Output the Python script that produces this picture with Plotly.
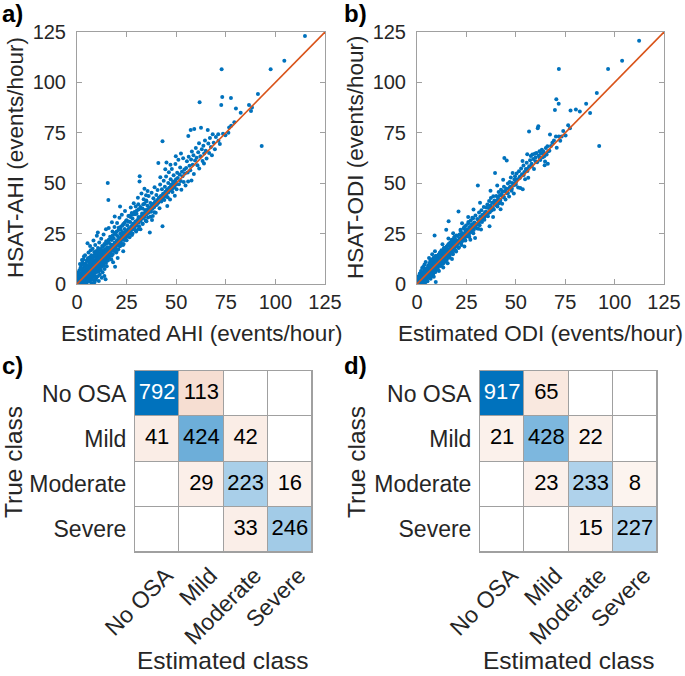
import plotly.graph_objects as go

# ---- data ----
# a) estimated AHI vs HSAT-AHI (events/hour)
ahi_points = [
    (0.1,0.0),(0.3,0.4),(0.4,1.1),(0.6,0.1),(0.7,2.0),(0.9,0.7),(1.0,3.1),(1.1,1.4),(1.3,0.2),(1.4,2.5),
    (1.6,4.2),(1.7,0.9),(1.9,1.8),(2.0,3.6),(2.1,5.3),(2.3,0.4),(2.4,2.9),(2.6,6.4),(2.7,1.2),(2.9,4.5),
    (3.0,7.6),(3.1,2.2),(3.3,0.6),(3.4,5.8),(3.6,3.4),(3.7,8.9),(3.9,1.5),(4.0,6.7),(4.2,4.3),(4.3,10.2),
    (4.5,2.4),(4.6,7.8),(4.8,5.2),(4.9,11.6),(5.0,0.9),(0.5,5.5),(1.2,6.8),(1.8,8.1),(2.2,9.4),(2.8,10.7),
    (3.2,12.1),(3.5,13.6),(2.5,11.9),(1.5,9.9),(4.1,14.3),(0.8,3.8),(2.0,0.1),(3.8,0.3),(4.4,0.5),
    (5.1,3.6),(5.2,6.9),(5.3,9.1),(5.4,1.7),(5.5,12.8),(5.6,5.3),(5.7,8.0),(5.8,15.6),(5.9,2.9),(6.0,6.2),
    (6.1,10.4),(6.2,4.1),(6.3,13.2),(6.4,7.4),(6.5,1.3),(6.6,9.0),(6.7,5.6),(6.8,11.7),(6.9,16.8),(7.0,3.2),
    (7.1,7.9),(7.2,14.3),(7.3,6.1),(7.4,9.8),(7.5,2.2),(7.6,12.6),(7.7,4.9),(7.8,8.7),(7.9,17.5),(8.0,6.8),
    (8.1,10.9),(8.2,3.5),(8.3,13.8),(8.4,7.6),(8.5,1.9),(8.6,9.4),(8.7,15.9),(8.8,5.4),(8.9,11.5),(9.0,8.2),
    (9.1,4.0),(9.2,19.3),(9.3,10.1),(9.4,6.6),(9.5,13.0),(9.6,2.8),(9.7,8.9),(9.8,16.4),(9.9,11.8),(10.0,5.9),
    (5.3,20.2),(6.6,18.9),(8.3,21.6),(10.0,23.9),(7.4,0.4),(8.8,0.9),(9.4,2.0),
    (10.1,9.6),(10.2,14.2),(10.3,7.3),(10.4,11.1),(10.5,3.9),(10.6,17.8),(10.7,9.0),(10.8,12.6),(10.9,6.2),
    (11.0,15.1),(11.1,10.3),(11.2,20.6),(11.3,8.1),(11.4,13.5),(11.5,4.6),(11.6,11.9),(11.7,17.1),(11.8,9.7),
    (11.9,14.7),(12.0,7.0),(12.1,12.3),(12.2,22.4),(12.3,10.5),(12.4,15.8),(12.5,8.6),(12.6,13.1),(12.7,18.9),
    (12.8,11.4),(12.9,5.8),(13.0,14.6),(13.1,10.0),(13.2,16.7),(13.3,12.4),(13.4,24.5),(13.5,9.1),(13.6,15.3),
    (13.7,12.9),(13.8,19.8),(13.9,7.5),(14.0,14.0),(14.1,11.2),(14.2,17.4),(14.3,13.6),(14.4,2.3),(14.5,15.9),
    (14.6,10.4),(14.7,21.2),(14.8,12.8),(14.9,16.6),(15.0,8.8),(11.0,1.5),(12.5,3.1),(13.8,4.0),(10.5,25.6),
    (14.6,27.2),
    (15.2,14.1),(15.4,18.2),(15.5,50.1),(15.6,11.7),(15.8,41.7),(15.9,16.3),(16.1,20.5),(16.3,13.8),(16.5,17.9),
    (16.7,23.4),(16.9,15.2),(17.1,19.6),(17.3,12.1),(17.5,21.8),(17.7,17.0),(17.9,26.1),(18.1,14.9),(18.3,19.2),
    (18.5,22.7),(18.7,16.8),(18.9,28.3),(19.1,20.4),(19.2,8.6),(19.4,18.1),(19.6,24.6),(19.8,15.6),(20.0,21.5),
    (20.2,30.2),(20.4,19.3),(20.6,23.7),(20.8,17.2),(21.0,26.8),(21.2,21.1),(21.4,32.9),(21.6,18.7),(21.8,24.9),
    (22.0,22.3),(22.2,28.5),(22.4,20.0),(22.6,34.4),(22.8,25.8),(23.0,23.1),(23.2,19.4),(23.4,29.7),(23.6,24.5),
    (23.8,21.8),(24.0,27.3),(24.2,36.2),(24.4,25.6),(24.6,22.9),(24.8,31.4),(25.0,26.4),(16.0,27.8),(17.6,30.6),
    (19.0,33.5),(21.7,38.4),(23.3,16.2),(20.5,12.9),(18.2,10.8),
    (25.3,29.2),(25.6,23.8),(25.9,33.7),(26.2,27.6),(26.5,25.1),(26.8,30.8),(27.1,37.9),(27.4,28.4),(27.7,24.3),
    (28.0,32.5),(28.3,29.9),(28.6,40.1),(28.9,27.2),(29.2,34.6),(29.5,31.0),(29.8,26.0),(30.1,36.3),(30.4,30.7),
    (30.7,42.8),(31.0,33.2),(31.3,28.7),(31.6,53.4),(31.9,37.5),(32.2,32.1),(32.5,44.9),(32.8,35.0),(33.1,29.8),
    (33.4,39.6),(33.7,34.3),(34.0,47.2),(34.3,36.7),(34.6,31.5),(34.9,41.4),(35.2,36.1),(35.5,38.8),(35.8,33.0),
    (36.1,43.6),(36.4,37.4),(36.7,25.5),(37.0,40.2),(37.3,35.9),(37.6,45.3),(37.9,39.0),(38.2,33.7),(38.5,42.5),
    (38.8,38.1),(39.1,48.0),(39.4,40.8),(39.7,35.4),(40.0,44.1),(27.6,35.2),(29.6,38.4),(31.5,50.9),(33.6,42.0),
    (35.6,46.1),(26.4,33.9),(30.9,39.5),(34.8,44.0),(32.0,27.2),(37.8,31.8),
    (40.3,39.6),(40.6,46.6),(41.0,60.0),(41.3,42.8),(41.6,37.6),(41.9,49.3),(42.2,43.5),(42.5,40.9),(42.8,47.0),
    (43.1,70.8),(43.1,28.6),(43.4,44.6),(43.7,51.2),(44.0,41.7),(44.3,48.3),(44.6,45.0),(44.9,53.3),(45.1,60.3),
    (45.4,46.5),(45.7,43.0),(46.0,50.1),(46.3,55.4),(46.6,47.8),(46.9,41.9),(47.2,52.0),(47.5,49.2),(47.8,57.0),
    (48.1,45.6),(48.4,50.8),(48.7,53.9),(49.0,48.4),(49.3,43.8),(49.6,59.5),(49.9,51.9),(50.2,47.0),(50.5,55.2),
    (50.8,52.6),(51.1,61.6),(51.4,49.5),(51.7,54.3),(52.0,57.8),(52.3,51.1),(52.6,46.8),(52.9,55.7),(53.2,53.4),
    (53.5,62.4),(53.8,50.6),(54.1,56.8),(54.4,54.8),(54.7,48.9),(56.0,50.9),(57.7,51.4),(42.0,53.0),(44.5,56.9),
    (47.1,59.1),(49.8,63.4),(52.4,64.7),(45.5,38.7),
    (55.0,57.5),(55.4,60.9),(55.8,55.3),(56.1,73.4),(56.3,63.1),(56.7,58.6),(57.1,56.4),(57.3,76.4),(57.5,61.8),
    (57.9,65.7),(58.3,59.2),(58.7,63.9),(59.1,76.9),(59.5,61.2),(59.9,67.4),(60.3,62.6),(60.7,58.9),(61.1,65.3),
    (61.5,69.8),(61.8,90.1),(62.2,63.4),(62.5,77.5),(62.9,66.9),(63.3,61.0),(63.7,68.6),(64.1,64.7),(64.5,71.2),
    (64.9,66.1),(65.3,62.3),(65.9,76.4),(66.2,69.7),(66.6,65.0),(67.0,72.4),(67.5,68.0),(68.0,63.9),(68.4,74.3),
    (68.9,70.1),(69.5,66.8),(70.0,72.9),(71.2,74.3),(71.3,71.0),(72.0,69.5),(72.7,88.8),(72.9,106.5),(73.2,92.8),
    (73.6,74.5),(74.8,73.8),(76.3,75.0),(76.7,77.6),(77.6,92.3),(77.7,78.5),(79.3,80.2),(80.1,87.0),(82.5,85.0),
    (86.7,88.8),(87.7,85.8),(88.2,87.6),(91.2,94.2),(93.1,68.5),(97.6,106.5),(104.5,110.8),(114.9,123.0),
    (58.9,54.6),(61.6,57.3),(64.0,59.8),
    # dense band along the diagonal
    (0.5,0.6),(1.0,1.6),(1.5,0.5),(2.0,2.4),(2.5,1.9),(3.0,3.9),(3.5,2.6),(4.0,4.8),(4.5,3.9),(5.0,5.9),
    (5.5,4.6),(6.0,7.1),(6.5,5.8),(7.0,8.3),(7.5,7.0),(8.0,9.1),(8.5,8.0),(9.0,10.2),(9.5,9.3),(10.0,11.3),
    (10.5,10.1),(11.0,12.2),(11.5,11.0),(12.0,13.3),(12.5,12.1),(13.0,12.8),(13.5,14.4),(14.0,13.1),(14.5,14.8),
    (15.0,16.1),(15.5,15.0),(16.0,17.4),(16.5,15.9),(17.0,18.2),(17.5,16.7),(18.0,19.4),(18.5,17.9),(19.0,20.5),
    (19.5,19.0),(20.0,20.9),(20.5,21.8),(21.0,20.1),(21.5,22.6),(22.0,21.2),(22.5,23.7),(23.0,22.1),(23.5,24.8),
    (24.0,23.4),(24.5,25.6),(25.0,24.3),(25.5,26.7),(26.0,25.3),(26.5,27.5),(27.0,26.2),(27.5,28.8),(28.0,27.1),
    (28.5,29.6),(29.0,28.3),(29.5,30.7),(30.0,29.0),(30.5,31.8),(31.0,30.5),(31.5,32.9),(32.0,31.4),(32.5,33.7),
    (33.0,32.6),(33.5,34.8),(34.0,33.2),(34.5,35.9),(35.0,34.6),(35.5,36.8),(36.0,35.3),(36.5,37.9),(37.0,36.4),
    (37.5,38.7),(38.0,37.3),(38.5,39.8),(39.0,38.5),(39.5,40.9),(40.0,39.2),(40.5,41.7),(41.0,40.3),(41.5,42.8),
    (42.0,41.2),(42.5,43.6),(43.0,42.4),(43.5,44.7),(44.0,43.3),(44.5,45.8),(45.0,44.1),(45.5,46.9),(46.0,45.4),
    (46.5,47.6),(47.0,46.5),(47.5,48.8),(48.0,47.2),(48.5,49.7),(49.0,48.0),(49.5,50.9),(50.0,49.3),
    (1.0,5.0),(2.0,7.3),(3.0,9.5),(4.0,9.0),(5.0,8.4),(6.0,11.2),(7.0,10.9),(8.0,12.3),(9.0,14.6),(10.0,15.2),
    (11.0,16.7),(12.0,17.3),(13.0,18.5),(14.0,19.4),(15.0,20.2),(16.0,21.9),(17.0,22.6),(18.0,24.0),(19.0,25.3),
    (20.0,26.1),(21.0,27.9),(22.0,27.0),(23.0,29.1),(24.0,30.4),(25.0,31.6),(26.0,31.0),(27.0,33.2),(28.0,34.5),
    (29.0,35.7),(30.0,34.8),(31.0,36.9),(32.0,38.2),(33.0,37.5),(34.0,39.8),(35.0,41.0),
    (5.5,2.0),(6.5,3.4),(7.5,4.2),(8.5,5.7),(9.5,6.1),(10.5,7.7),(11.5,8.0),(12.5,9.9),(13.5,10.8),(14.5,11.5),
    (16.0,12.9),(17.5,14.0),(19.0,16.4),(20.5,17.0),(22.0,19.1),(23.5,19.9),(25.0,21.7),(26.5,23.2),(28.0,25.0),
    (29.5,26.6),(31.0,27.3),(33.0,30.0),(35.0,31.1),(37.0,33.4),(39.0,35.6),
]

# b) estimated ODI vs HSAT-ODI (events/hour)
odi_points = [
    (0.1,0.1),(0.3,0.8),(0.4,0.2),(0.6,1.5),(0.7,0.4),(0.9,2.2),(1.0,0.9),(1.2,0.1),(1.3,2.8),(1.5,1.4),
    (1.6,3.5),(1.8,0.6),(1.9,2.1),(2.1,4.0),(2.2,1.1),(2.4,2.9),(2.5,5.1),(2.7,0.3),(2.8,3.7),(3.0,1.8),
    (3.1,6.0),(3.3,2.6),(3.4,4.4),(3.6,0.9),(3.7,3.3),(3.9,6.9),(4.0,1.7),(4.2,5.2),(4.3,3.0),(4.5,7.6),
    (4.6,2.2),(4.8,4.7),(4.9,6.2),(5.0,3.6),(0.8,3.9),(1.4,5.2),(2.0,6.5),(2.6,7.9),(3.2,8.6),(3.8,9.7),
    (4.4,10.9),(1.1,0.0),(2.3,0.2),(3.5,0.5),(4.1,0.7),
    (5.1,5.8),(5.2,2.9),(5.4,7.3),(5.5,4.5),(5.6,9.1),(5.8,6.0),(5.9,3.3),(6.0,8.2),(6.2,5.1),(6.3,10.4),
    (6.4,7.0),(6.6,4.2),(6.7,8.9),(6.8,11.6),(7.0,6.4),(7.1,9.7),(7.2,3.8),(7.4,7.9),(7.5,12.1),(7.6,5.6),
    (7.8,9.2),(7.9,7.0),(8.0,10.8),(8.2,4.9),(8.3,8.5),(8.4,13.0),(8.6,6.7),(8.7,9.9),(8.8,11.8),(8.9,24.1),
    (9.0,7.8),(9.2,10.5),(9.3,5.9),(9.4,13.9),(9.6,9.1),(9.7,11.3),(9.8,7.4),(10.0,12.6),(6.1,12.9),(7.7,14.8),
    (9.1,16.2),(5.3,1.4),(6.9,2.6),(8.5,3.6),(9.5,1.0),
    (10.2,9.7),(10.4,12.0),(10.6,8.4),(10.8,14.1),(11.0,10.9),(11.2,13.2),(11.4,9.3),(11.6,15.6),(11.8,12.4),
    (12.0,10.7),(12.2,14.5),(12.4,16.8),(12.6,11.8),(12.8,13.9),(13.0,9.9),(13.2,15.7),(13.4,13.1),(13.6,17.9),
    (13.8,12.2),(14.0,14.9),(14.2,16.6),(14.4,11.3),(14.6,15.4),(14.8,26.9),(15.0,13.8),(15.2,17.5),(15.4,15.1),
    (15.6,19.2),(15.8,13.0),(16.0,31.1),(16.2,16.6),(16.4,18.8),(16.6,14.4),(16.8,20.4),(17.0,17.3),(17.2,15.5),
    (17.4,19.7),(17.6,21.9),(17.8,16.8),(18.0,18.9),(18.2,14.7),(18.4,20.9),(18.6,18.1),(18.8,23.0),(19.0,17.0),
    (19.2,20.2),(19.4,22.1),(19.6,18.6),(19.8,16.1),(20.0,21.3),(11.1,6.5),(13.3,8.2),(15.5,10.3),(17.7,12.4),
    (12.9,19.7),(15.9,22.6),(18.3,25.2),
    (20.3,19.6),(20.6,23.8),(20.9,21.0),(21.0,36.0),(21.2,18.2),(21.5,24.5),(21.8,22.1),(22.1,26.3),(22.4,20.4),
    (22.7,23.7),(23.0,25.2),(23.3,21.5),(23.6,27.6),(23.9,24.2),(24.2,22.0),(24.5,26.4),(24.8,29.0),(25.1,23.6),
    (25.4,27.2),(25.7,25.0),(26.0,30.1),(26.3,24.4),(26.6,28.3),(26.9,26.2),(27.2,31.5),(27.5,25.8),(27.8,29.6),
    (28.1,27.4),(28.4,32.6),(28.7,26.8),(29.0,30.5),(29.3,28.7),(29.4,22.8),(29.6,34.0),(29.9,29.6),(30.2,27.6),
    (30.5,32.2),(30.8,48.8),(31.1,30.3),(31.4,35.5),(31.7,29.1),(32.0,33.3),(32.3,31.4),(32.6,36.6),(32.9,30.7),
    (33.2,34.4),(33.5,32.5),(33.8,38.2),(34.1,31.9),(34.4,35.6),(34.7,33.8),(35.0,37.9),(22.8,30.1),(25.9,33.2),
    (28.6,36.9),(31.9,40.3),(24.0,18.6),(27.0,21.9),(32.4,27.0),
    (35.3,35.1),(35.6,39.4),(35.9,33.6),(36.2,37.7),(36.5,41.2),(36.7,28.6),(36.8,35.6),(37.1,39.0),(37.4,42.6),
    (37.7,36.4),(38.0,40.3),(38.3,38.1),(38.6,43.5),(38.9,37.0),(39.2,41.4),(39.5,55.0),(39.8,39.6),(40.1,43.7),
    (40.4,41.2),(40.7,38.4),(41.0,42.8),(41.3,45.6),(41.6,40.1),(41.9,43.9),(42.2,41.7),(42.5,46.8),(42.8,44.6),
    (43.1,39.8),(43.4,45.9),(43.7,43.1),(44.0,48.2),(44.2,62.5),(44.5,46.1),(44.8,41.9),(45.1,47.4),(45.4,61.3),
    (45.7,45.0),(46.0,49.9),(46.3,47.3),(46.6,43.4),(46.9,50.6),(47.2,48.3),(47.5,52.8),(47.8,46.2),(48.1,50.1),
    (48.4,55.0),(48.7,48.8),(49.0,44.9),(49.3,51.8),(49.6,53.5),(50.0,50.4),(37.2,46.3),(40.6,48.9),(43.6,51.7),
    (38.5,33.2),(42.3,37.1),
    (50.4,54.8),(50.8,52.0),(51.2,47.9),(51.6,55.9),(52.0,53.2),(52.3,47.6),(52.7,57.3),(53.1,54.5),(53.5,47.0),
    (53.9,58.8),(54.3,55.6),(54.7,51.9),(55.1,57.1),(55.5,60.2),(55.9,56.0),(56.3,52.7),(56.7,75.7),(56.8,58.4),
    (57.2,61.4),(57.6,63.5),(58.0,59.6),(58.4,64.2),(58.8,62.0),(59.2,57.1),(59.6,64.6),(60.0,62.8),(60.4,65.0),
    (60.8,60.4),(61.1,77.2),(61.4,78.2),(61.6,63.7),(62.0,65.9),(62.4,61.5),(62.8,64.8),(63.2,66.6),(63.6,62.9),
    (64.0,65.7),(64.4,63.4),(64.8,60.8),(65.2,67.4),(65.6,64.2),(66.0,68.3),(66.4,65.9),(67.0,66.1),(67.3,74.2),
    (67.8,68.5),(68.5,70.1),(69.3,71.2),(64.6,58.9),(66.2,59.7),(53.4,61.0),(55.8,64.3),
    (69.8,86.3),(70.3,73.2),(70.5,91.6),(70.7,67.6),(71.7,89.4),(71.8,73.2),(71.8,106.6),(73.2,73.2),(75.2,73.7),
    (76.5,78.7),(77.4,77.2),(77.7,86.0),(80.4,86.5),(82.4,85.6),(85.6,89.4),(87.6,84.8),(91.0,94.7),(92.2,68.5),
    (96.7,106.6),(103.8,110.8),(112.4,120.7),(72.5,71.0),(74.0,75.9),
    # dense band along the diagonal
    (0.5,0.4),(1.0,1.3),(1.5,0.7),(2.0,2.5),(2.5,1.6),(3.0,3.4),(3.5,2.7),(4.0,4.6),(4.5,3.7),(5.0,5.3),
    (5.5,4.9),(6.0,6.7),(6.5,5.8),(7.0,7.6),(7.5,6.9),(8.0,8.8),(8.5,7.7),(9.0,9.6),(9.5,8.8),(10.0,10.7),
    (10.5,9.9),(11.0,11.8),(11.5,10.6),(12.0,12.7),(12.5,11.9),(13.0,13.6),(13.5,12.8),(14.0,14.5),(14.5,13.7),
    (15.0,15.8),(15.5,14.6),(16.0,16.9),(16.5,15.7),(17.0,17.8),(17.5,16.6),(18.0,18.7),(18.5,17.5),(19.0,19.9),
    (19.5,18.6),(20.0,20.6),(20.5,21.4),(21.0,20.3),(21.5,22.5),(22.0,21.3),(22.5,23.4),(23.0,22.2),(23.5,24.3),
    (24.0,23.1),(24.5,25.2),(25.0,24.4),(25.5,26.3),(26.0,25.2),(26.5,27.4),(27.0,26.1),(27.5,28.3),(28.0,27.0),
    (28.5,29.4),(29.0,28.2),(29.5,30.1),(30.0,29.3),(31.0,31.9),(32.0,31.0),(33.0,33.8),(34.0,33.0),(35.0,35.9),
    (36.0,35.1),(37.0,37.8),(38.0,37.2),(39.0,39.9),(40.0,39.1),(41.0,41.8),(42.0,41.0),(43.0,43.9),(44.0,43.2),
    (45.0,45.8),(46.0,45.1),(47.0,47.9),(48.0,47.3),(49.0,49.8),(50.0,49.2),(52.0,52.6),(54.0,54.1),(56.0,57.2),
    (58.0,58.4),(60.0,60.9),(62.0,62.8),(64.0,64.5),
    (1.0,3.0),(2.0,4.6),(3.0,5.2),(4.0,6.4),(5.0,7.8),(6.0,9.3),(7.0,10.4),(8.0,11.9),(9.0,12.4),(10.0,13.9),
    (11.0,14.6),(12.0,15.7),(13.0,16.4),(14.0,17.8),(15.0,18.6),(16.0,19.9),(17.0,20.7),(18.0,21.9),(19.0,23.4),
    (20.0,24.1),(22.0,26.9),(24.0,28.3),(26.0,30.7),(28.0,32.9),
    (3.0,0.6),(4.5,1.4),(6.0,3.2),(7.5,4.8),(9.0,6.0),(10.5,7.3),(12.0,8.9),(13.5,10.4),(15.0,11.9),(16.5,13.1),
    (18.0,15.4),(19.5,16.5),(21.0,17.9),(22.5,19.3),(24.5,21.6),(26.5,23.3),(28.5,25.2),(31.0,27.4),
]

axis_ticks = [0, 25, 50, 75, 100, 125]
identity_line = [0, 125]

classes = ["No OSA", "Mild", "Moderate", "Severe"]
# rows = true class, columns = estimated class
ahi_confusion = [
    [792, 113, 0, 0],
    [41, 424, 42, 0],
    [0, 29, 223, 16],
    [0, 0, 33, 246],
]
odi_confusion = [
    [917, 65, 0, 0],
    [21, 428, 22, 0],
    [0, 23, 233, 8],
    [0, 0, 15, 227],
]

# ---- styling ----
FONT = "Liberation Sans, Arial, sans-serif"
BLUE = "#0072BD"
ORANGE = "#D95319"
TXT = "#262626"
BOX = "#a0a0a0"
W, H = 685, 676


def px_x(p):
    return p / W


def px_y(p):
    return 1 - p / H


fig = go.Figure()

# scatter panels
for i, pts in enumerate([ahi_points, odi_points], start=1):
    xs = [p[0] for p in pts]
    ys = [p[1] for p in pts]
    fig.add_trace(go.Scatter(
        x=xs, y=ys, mode="markers", xaxis=f"x{i}", yaxis=f"y{i}",
        marker=dict(color=BLUE, size=4, line=dict(width=0)),
        showlegend=False, hoverinfo="skip",
    ))
    fig.add_trace(go.Scatter(
        x=identity_line, y=identity_line, mode="lines", xaxis=f"x{i}", yaxis=f"y{i}",
        line=dict(color=ORANGE, width=1.6), showlegend=False, hoverinfo="skip",
    ))

# confusion panels
diag_scale = [[0, "rgb(235,243,250)"], [1, BLUE]]
off_scale = [[0, "rgb(255,255,255)"], [0.005, "rgb(252,245,241)"], [1, "rgb(246,221,208)"]]
for i, cm in [(3, ahi_confusion), (4, odi_confusion)]:
    n = len(classes)
    top = max(max(r) for r in cm)
    diag = [[cm[r][c] if r == c else None for c in range(n)] for r in range(n)]
    off = [[cm[r][c] if r != c else None for c in range(n)] for r in range(n)]
    fig.add_trace(go.Heatmap(
        z=off, x=classes, y=classes, xaxis=f"x{i}", yaxis=f"y{i}",
        colorscale=off_scale, zmin=0, zmax=120, showscale=False,
        xgap=1, ygap=1, hoverinfo="skip",
    ))
    fig.add_trace(go.Heatmap(
        z=diag, x=classes, y=classes, xaxis=f"x{i}", yaxis=f"y{i}",
        colorscale=diag_scale, zmin=0, zmax=top, showscale=False,
        xgap=1, ygap=1, hoverinfo="skip",
    ))
    tx, ty, tt, tc = [], [], [], []
    for r in range(n):
        for c in range(n):
            if cm[r][c]:
                tx.append(classes[c])
                ty.append(classes[r])
                tt.append(str(cm[r][c]))
                tc.append("white" if cm[r][c] == top else "black")
    fig.add_trace(go.Scatter(
        x=tx, y=ty, text=tt, mode="text", xaxis=f"x{i}", yaxis=f"y{i}",
        textfont=dict(family=FONT, size=22, color=tc),
        showlegend=False, hoverinfo="skip",
    ))
    fig.add_shape(type="rect", xref=f"x{i} domain", yref=f"y{i} domain",
                  x0=0, x1=1, y0=0, y1=1, fillcolor=BOX, line_width=0, layer="below")

scatter_axis = dict(
    range=[0, 125], tickvals=axis_ticks, showgrid=False, zeroline=False,
    showline=True, linecolor=BOX, linewidth=1, mirror="ticks",
    ticks="inside", ticklen=5, tickcolor=BOX, automargin=False,
    tickfont=dict(family=FONT, size=20, color=TXT),
)
heat_axis = dict(
    showgrid=False, zeroline=False, showline=True, linecolor=BOX, linewidth=1,
    mirror=True, ticks="", tickfont=dict(family=FONT, size=23, color=TXT),
    type="category", categoryorder="array", categoryarray=classes, automargin=False,
)

top_y = [px_y(284), px_y(32)]
bot_y = [px_y(552), px_y(371)]
fig.update_layout(
    width=W, height=H, autosize=False,
    margin=dict(l=0, r=0, t=0, b=0, autoexpand=False),
    paper_bgcolor="white", plot_bgcolor="white",
    font=dict(family=FONT, color=TXT),
    xaxis1=dict(scatter_axis, domain=[px_x(77), px_x(325)], anchor="y1"),
    yaxis1=dict(scatter_axis, domain=top_y, anchor="x1", ticklabelstandoff=6),
    xaxis2=dict(scatter_axis, domain=[px_x(417), px_x(664)], anchor="y2"),
    yaxis2=dict(scatter_axis, domain=top_y, anchor="x2", ticklabelstandoff=6),
    xaxis3=dict(heat_axis, domain=[px_x(135), px_x(312)], anchor="y3",
                tickangle=-45, range=[-0.5, 3.5], ticklabelshift=9),
    yaxis3=dict(heat_axis, domain=bot_y, anchor="x3", range=[3.5, -0.5],
                ticklabelstandoff=3),
    xaxis4=dict(heat_axis, domain=[px_x(480), px_x(657)], anchor="y4",
                tickangle=-45, range=[-0.5, 3.5], ticklabelshift=9),
    yaxis4=dict(heat_axis, domain=bot_y, anchor="x4", range=[3.5, -0.5],
                ticklabelstandoff=3),
)

# titles and panel letters
notes = [
    ("a)", 0, 13, 0, True, 24, "left"),
    ("b)", 342, 13, 0, True, 24, "left"),
    ("c)", 0, 365, 0, True, 24, "left"),
    ("d)", 342, 365, 0, True, 24, "left"),
    ("Estimated AHI (events/hour)", 201, 333, 0, False, 22.5, "center"),
    ("Estimated ODI (events/hour)", 540, 333, 0, False, 22.5, "center"),
    ("HSAT-AHI (events/hour)", 16, 158, -90, False, 22.5, "center"),
    ("HSAT-ODI (events/hour)", 356, 158, -90, False, 22.5, "center"),
    ("True class", 13, 462, -90, False, 24.5, "center"),
    ("True class", 356, 462, -90, False, 24.5, "center"),
    ("Estimated class", 223, 660, 0, False, 24.5, "center"),
    ("Estimated class", 569, 660, 0, False, 24.5, "center"),
]
for text, x, y, ang, bold, size, anchor in notes:
    fig.add_annotation(
        text=f"<b>{text}</b>" if bold else text,
        x=px_x(x), y=px_y(y), xref="paper", yref="paper",
        xanchor=anchor, yanchor="middle", textangle=ang, showarrow=False,
        font=dict(family=FONT, size=size, color="black" if bold else TXT),
    )

fig.write_html("out.html", config={"displayModeBar": False},
               post_script="document.body.style.margin='0';")
